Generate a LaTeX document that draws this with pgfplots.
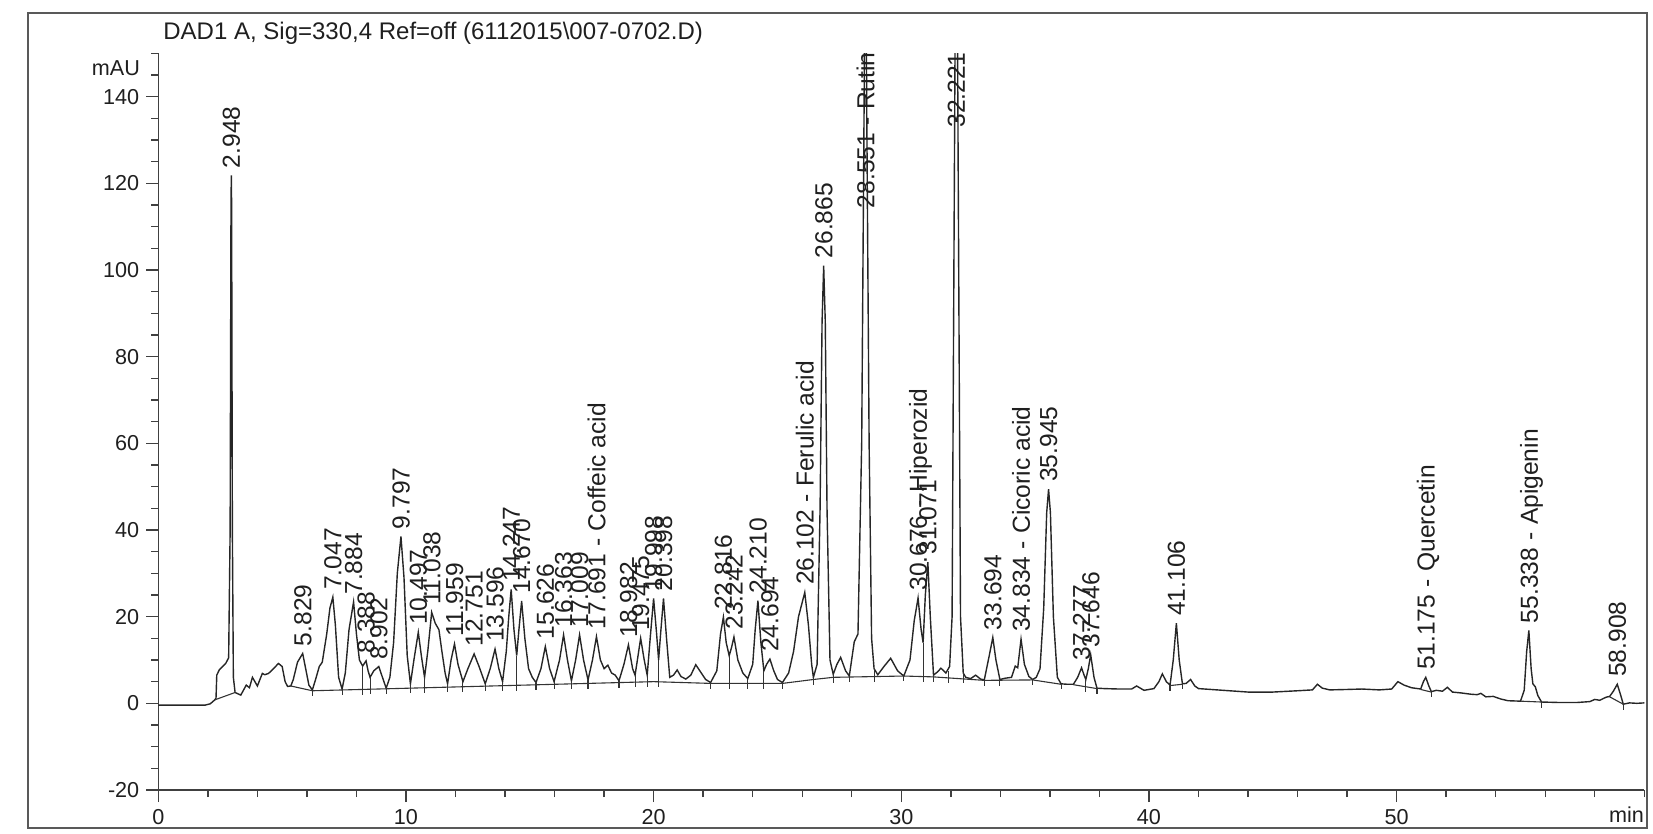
\documentclass[border=0pt]{standalone}
\usepackage{fontspec}
\setmainfont{Liberation Sans}
\usepackage{pgfplots}
\pgfplotsset{compat=1.18}
\tikzset{
  pl/.style={yshift=3.5pt, rotate=90, anchor=west, inner sep=0pt, text depth=0pt,
             font=\fontsize{12.3}{14}\selectfont, text=black!88},
  plc/.style={rotate=90, anchor=east, inner sep=0pt, text depth=0pt,
             font=\fontsize{12.3}{14}\selectfont, text=black!88},
}
\newcommand{\sep}{\hspace{0.3em}-\hspace{0.3em}}
\begin{document}
\begin{tikzpicture}
\begin{axis}[
  scale only axis, width=743pt, height=368.35pt,
  xmin=0, xmax=60, ymin=-20, ymax=150,
  axis x line*=bottom, axis y line*=left,
  axis line style={black!75, line width=0.8pt},
  xtick={0,10,20,30,40,50}, xticklabels={0,10,20,30,40,50},
  minor xtick={2,4,...,60},
  ytick={-20,0,20,40,60,80,100,120,140},
  yticklabels={-20,0,20,40,60,80,100,120,140},
  minor ytick={-15,-10,...,150},
  tick align=outside,
  major tick length=6pt, minor tick length=3.5pt,
  tick style={black!75, line width=0.7pt},
  ticklabel style={font=\fontsize{10.8}{12}\selectfont, text=black!88},
  unbounded coords=jump,
]
% chromatogram trace
\addplot[black!85, line width=0.7pt] coordinates {
(0,-0.4) (1.9,-0.4) (2.1,-0.1) (2.28,0.8) (2.33,1.2) (2.36,6.5) (2.46,7.7) (2.60,8.5) (2.72,9.2) (2.84,10.5)
(2.90,40) (2.935,115) (2.948,121.8) (2.96,115) (2.99,40) (3.03,6) (3.10,2.5) (3.33,1.9) (3.55,4.2) (3.68,3.6)
(3.80,6.0) (4.00,4.0) (4.20,6.9) (4.30,6.6) (4.45,6.9) (4.60,7.7) (4.85,9.2) (5.00,8.5) (5.12,5) (5.22,3.9)
(5.35,4.0) (5.45,5.5) (5.62,9.5) (5.829,11.5) (5.95,8) (6.08,4.2) (6.22,3.1) (6.35,5.5) (6.50,8.5) (6.62,9.5)
(6.80,16) (6.93,22) (7.047,24.5) (7.15,18) (7.28,6) (7.42,3.3) (7.55,7) (7.70,17) (7.884,23.4) (8.00,16)
(8.12,10) (8.25,8.6) (8.388,9.8) (8.47,7.5) (8.55,6.0) (8.70,7.5) (8.902,8.5) (9.02,6.5) (9.20,3.5) (9.35,6)
(9.50,14) (9.65,30) (9.797,38.5) (9.92,29) (10.05,11) (10.18,4.5) (10.32,10) (10.497,16.4) (10.62,11) (10.75,6)
(10.88,12) (11.038,21.0) (11.18,18.5) (11.33,17) (11.45,12) (11.58,7) (11.68,4.5) (11.82,10) (11.959,13.7) (12.10,9)
(12.3,5) (12.5,8) (12.751,11.4) (12.95,8.5) (13.2,4.5) (13.4,8) (13.596,12.5) (13.75,8) (13.9,5) (14.05,12)
(14.15,20) (14.247,26.3) (14.36,17) (14.47,11) (14.56,17) (14.670,23.6) (14.80,15) (14.95,8) (15.1,6) (15.25,4.8)
(15.45,8) (15.626,13.1) (15.8,8) (15.98,5) (16.2,10) (16.363,15.8) (16.52,10) (16.68,5.2) (16.85,10) (17.009,15.8)
(17.17,10) (17.35,5.4) (17.53,10) (17.691,15.4) (17.85,10) (18.0,8) (18.15,8.8) (18.3,7) (18.45,6.5) (18.6,5.2)
(18.8,9) (18.982,13.5) (19.15,8) (19.25,6.5) (19.33,9.5) (19.475,15.0) (19.62,10) (19.74,6.5) (19.86,15) (19.998,24.2)
(20.12,16) (20.2,10) (20.28,16) (20.398,24.2) (20.52,15) (20.65,6) (20.8,6.5) (20.95,7.7) (21.1,6.2) (21.3,5.6)
(21.5,6.5) (21.7,8.9) (21.9,7.2) (22.1,5.5) (22.3,4.8) (22.55,7.5) (22.7,16) (22.816,19.9) (22.93,14) (23.05,11)
(23.15,13) (23.242,15.3) (23.4,10) (23.6,7.0) (23.8,5.7) (24.0,9) (24.1,17) (24.210,23.7) (24.33,14) (24.45,7.5)
(24.56,9) (24.694,10.2) (24.85,7.5) (25.0,5.5) (25.2,4.8) (25.45,7) (25.65,12) (25.85,20) (26.102,25.6) (26.25,18)
(26.38,9) (26.45,6.0) (26.6,9) (26.72,45) (26.80,88) (26.865,101) (26.93,88) (27.0,45) (27.12,10) (27.25,6.7)
(27.4,9) (27.55,10.6) (27.75,7.5) (27.9,6.3) (28.1,14.2) (28.25,16) (28.40,60) (28.50,140) (28.551,200) (28.60,140)
(28.70,60) (28.80,15) (28.9,8) (29.05,6.6) (29.3,8.5) (29.57,10.4) (29.85,7.5) (30.1,6.3) (30.35,10) (30.52,19)
(30.676,24.3) (30.80,17) (30.88,14) (30.97,25) (31.071,32.6) (31.17,20) (31.3,6.5) (31.45,7.2) (31.6,8.1) (31.8,7)
(31.95,8.5) (32.05,20) (32.15,130) (32.221,210) (32.29,130) (32.39,20) (32.5,7) (32.6,6) (32.8,5.7) (33.0,6.5)
(33.2,5.6) (33.35,5.4) (33.55,11) (33.694,15.2) (33.82,10) (33.98,5.5) (34.2,5.8) (34.45,6) (34.6,8.6) (34.7,8.2)
(34.834,14.8) (34.97,9) (35.15,6.2) (35.3,5.5) (35.45,6) (35.6,8) (35.75,22) (35.87,44) (35.945,49.4) (36.02,44)
(36.14,20) (36.3,6) (36.45,4.5) (36.7,4.4) (36.95,4.4) (37.12,6) (37.277,8.2) (37.38,6.5) (37.45,5.5) (37.55,8)
(37.646,11.2) (37.78,6) (37.9,3.5) (38.2,3.4) (38.8,3.3) (39.3,3.3) (39.5,4) (39.8,3) (40.2,3.4) (40.4,5)
(40.54,6.8) (40.7,5) (40.85,4.2) (40.98,10) (41.106,18.5) (41.22,10) (41.35,4.5) (41.5,4.6) (41.68,5.5) (41.85,4.0)
(42.0,3.4) (42.5,3.2) (43.0,3.0) (44.0,2.6) (45.0,2.6) (46.0,2.9) (46.6,3.1) (46.8,4.4) (47.0,3.5) (47.3,3.1)
(48.0,3.2) (48.6,3.3) (49.3,3.1) (49.8,3.3) (50.05,5.0) (50.3,4.2) (50.6,3.6) (50.97,3.3) (51.08,5) (51.175,6.0)
(51.3,4) (51.4,2.7) (51.6,3) (51.85,2.8) (52.05,3.7) (52.25,2.6) (52.6,2.4) (53.0,2.1) (53.25,2.0) (53.4,2.3)
(53.6,1.5) (53.9,1.6) (54.2,1.0) (54.5,0.6) (55.0,0.5) (55.15,3) (55.25,12) (55.338,16.8) (55.43,8) (55.5,4.5)
(55.6,3.8) (55.7,1.8) (55.85,0.3) (56.5,0.2) (57.3,0.2) (57.8,0.4) (58.0,0.9) (58.2,0.7) (58.45,1.4) (58.6,1.6)
(58.75,2.8) (58.908,4.4) (59.05,1.8) (59.15,-0.2) (59.4,0.1) (59.7,0.0) (60,0.1)
};
% integration baselines
\addplot[black!80, line width=0.55pt] coordinates {
(2.28,0.8) (3.10,2.5) (3.10,nan)
(5.35,4.0) (6.22,2.9) (20.0,5.0) (22.3,4.6) (25.2,4.6) (26.45,5.5) (27.25,6.0) (30.1,6.3) (31.3,6.1) (33.35,5.3) (35.3,5.4) (36.45,4.4) (36.45,nan)
(36.95,4.3) (37.9,3.4) (37.9,nan)
(40.85,4.1) (41.35,4.4) (41.35,nan)
(50.97,3.2) (51.4,2.6) (51.4,nan)
(55.0,0.5) (55.85,0.3) (55.85,nan)
(58.6,1.5) (59.15,-0.2)
};
% drop lines
\addplot[black!80, line width=0.55pt] coordinates {
(6.22,3.1) (6.22,1.7) (6.22,nan) (7.42,3.3) (7.42,1.9) (7.42,nan) (8.25,8.6) (8.25,2.0) (8.25,nan)
(8.55,6.0) (8.55,2.05) (8.55,nan) (9.20,3.5) (9.20,2.15) (9.20,nan) (10.18,4.5) (10.18,2.3) (10.18,nan)
(10.75,6) (10.75,2.4) (10.75,nan) (11.68,4.5) (11.68,2.5) (11.68,nan) (12.3,5) (12.3,2.6) (12.3,nan)
(13.2,4.5) (13.2,2.75) (13.2,nan) (13.9,5) (13.9,2.85) (13.9,nan) (14.47,11) (14.47,2.95) (14.47,nan)
(15.25,4.8) (15.25,3.05) (15.25,nan) (15.98,5) (15.98,3.2) (15.98,nan) (16.68,5.2) (16.68,3.3) (16.68,nan)
(17.35,5.4) (17.35,3.4) (17.35,nan) (18.6,5.2) (18.6,3.6) (18.6,nan) (19.25,6.5) (19.25,3.7) (19.25,nan)
(19.74,6.5) (19.74,3.75) (19.74,nan) (20.2,10) (20.2,3.8) (20.2,nan) (22.3,4.8) (22.3,3.4) (22.3,nan)
(23.05,11) (23.05,3.4) (23.05,nan) (23.8,5.7) (23.8,3.4) (23.8,nan) (24.45,7.5) (24.45,3.4) (24.45,nan)
(25.2,4.8) (25.2,3.4) (25.2,nan) (26.45,6.0) (26.45,4.3) (26.45,nan) (27.25,6.7) (27.25,4.8) (27.25,nan)
(27.9,6.3) (27.9,4.85) (27.9,nan) (28.9,8) (28.9,4.9) (28.9,nan) (30.1,6.3) (30.1,5.1) (30.1,nan)
(30.88,14) (30.88,5.0) (30.88,nan) (31.3,6.5) (31.3,4.9) (31.3,nan) (31.9,7.5) (31.9,4.8) (31.9,nan)
(32.5,7) (32.5,4.6) (32.5,nan) (33.35,5.4) (33.35,4.1) (33.35,nan) (33.98,5.5) (33.98,4.1) (33.98,nan)
(35.3,5.5) (35.3,4.2) (35.3,nan) (36.45,4.5) (36.45,3.2) (36.45,nan) (37.45,5.5) (37.45,2.7) (37.45,nan)
(37.9,3.5) (37.9,2.2) (37.9,nan) (40.85,4.2) (40.85,2.9) (40.85,nan) (41.35,4.5) (41.35,3.2) (41.35,nan)
(51.4,2.7) (51.4,1.4) (51.4,nan) (55.85,0.3) (55.85,-1.0) (55.85,nan) (59.15,-0.2) (59.15,-1.5)
};
% peak labels
\node[pl] at (axis cs:2.948,121.8) {2.948};
\node[pl] at (axis cs:5.829,11.5) {5.829};
\node[pl] at (axis cs:7.047,24.5) {7.047};
\node[pl] at (axis cs:7.884,23.4) {7.884};
\node[pl] at (axis cs:8.388,9.8) {8.388};
\node[pl] at (axis cs:8.902,8.5) {8.902};
\node[pl] at (axis cs:9.797,38.5) {9.797};
\node[pl] at (axis cs:10.497,16.4) {10.497};
\node[pl] at (axis cs:11.038,21.0) {11.038};
\node[pl] at (axis cs:11.959,13.7) {11.959};
\node[pl] at (axis cs:12.751,11.4) {12.751};
\node[pl] at (axis cs:13.596,12.5) {13.596};
\node[pl] at (axis cs:14.247,26.3) {14.247};
\node[pl] at (axis cs:14.670,23.6) {14.670};
\node[pl] at (axis cs:15.626,13.1) {15.626};
\node[pl] at (axis cs:16.363,15.8) {16.363};
\node[pl] at (axis cs:17.009,15.8) {17.009};
\node[pl] at (axis cs:17.691,15.4) {17.691\sep Coffeic acid};
\node[pl] at (axis cs:18.982,13.5) {18.982};
\node[pl] at (axis cs:19.475,15.0) {19.475};
\node[pl] at (axis cs:19.998,24.2) {19.998};
\node[pl] at (axis cs:20.398,24.2) {20.398};
\node[pl] at (axis cs:22.816,19.9) {22.816};
\node[pl] at (axis cs:23.242,15.3) {23.242};
\node[pl] at (axis cs:24.210,23.7) {24.210};
\node[pl] at (axis cs:24.694,10.2) {24.694};
\node[pl] at (axis cs:26.102,25.6) {26.102\sep Ferulic acid};
\node[pl] at (axis cs:26.865,101) {26.865};
\node[plc] at (axis cs:28.551,150.3) {28.551\sep Rutin};
\node[pl] at (axis cs:30.676,24.3) {30.676\sep Hiperozid};
\node[pl] at (axis cs:31.071,32.6) {31.071};
\node[plc] at (axis cs:32.221,150.3) {32.221};
\node[pl] at (axis cs:33.694,15.2) {33.694};
\node[pl] at (axis cs:34.834,14.8) {34.834\sep Cicoric acid};
\node[pl] at (axis cs:35.945,49.4) {35.945};
\node[pl] at (axis cs:37.277,8.2) {37.277};
\node[pl] at (axis cs:37.646,11.2) {37.646};
\node[pl] at (axis cs:41.106,18.5) {41.106};
\node[pl] at (axis cs:51.175,6.0) {51.175\sep Quercetin};
\node[pl] at (axis cs:55.338,16.8) {55.338\sep Apigenin};
\node[pl] at (axis cs:58.908,4.4) {58.908};
% helper coordinates
\coordinate (FBL) at (rel axis cs:-0.08748,-0.052);
\coordinate (FTR) at (rel axis cs:1.00182,1.0547);
\coordinate (BBL) at (rel axis cs:-0.10653,-0.05973);
\coordinate (BTR) at (rel axis cs:1.00585,1.07235);
\coordinate (TTL) at (rel axis cs:0.00316,1.0265);
\coordinate (MAU) at (axis cs:0,146.5);
\coordinate (MIN) at (axis cs:60,-20);
\end{axis}
\draw[black!65, line width=0.9pt] (FBL) rectangle (FTR);
\node[anchor=west, inner sep=0pt, font=\fontsize{12}{14}\selectfont, text=black!88] at (TTL)
  {DAD1 A, Sig=330,4 Ref=off (6112015\textbackslash 007-0702.D)};
\node[anchor=east, inner sep=0pt, xshift=-9pt, font=\fontsize{10.8}{12}\selectfont, text=black!88] at (MAU) {mAU};
\node[anchor=north east, inner sep=0pt, yshift=-8.3pt, font=\fontsize{10.8}{12}\selectfont, text=black!88] at (MIN) {min};
\pgfresetboundingbox
\useasboundingbox (BBL) rectangle (BTR);
\end{tikzpicture}
\end{document}
